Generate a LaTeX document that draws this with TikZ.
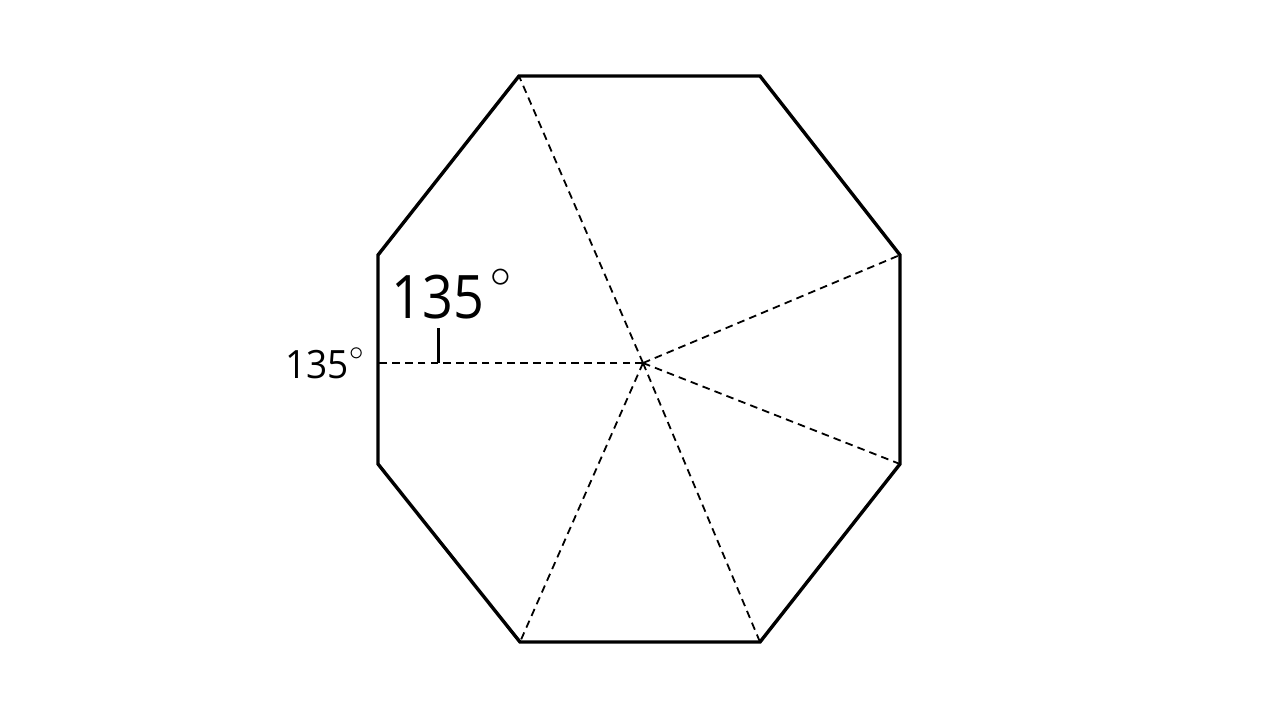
\documentclass[tikz,border=0pt]{standalone}
\usepackage{fontspec}
\setmainfont{Open Sans}
\begin{document}
\begin{tikzpicture}[x=0.5pt,y=-0.5pt,
  edge/.style={line width=1.7pt,line join=miter},
  ray/.style={line width=0.9pt,dash pattern=on 3.8pt off 2.6pt},
  tick/.style={line width=1.5pt},
  bigl/.style={font=\fontsize{30}{36}\selectfont,inner sep=0pt,anchor=base west},
  smalll/.style={font=\fontsize{19.5}{23}\selectfont,inner sep=0pt,anchor=base west}]
\useasboundingbox (0,0) rectangle (1280,720);
\coordinate (A) at (519,76);
\coordinate (B) at (760,76);
\coordinate (C) at (900,255);
\coordinate (D) at (900,464);
\coordinate (E) at (760,642);
\coordinate (F) at (520,642);
\coordinate (G) at (378,464);
\coordinate (H) at (378,255);
\coordinate (O) at (643,363);
\coordinate (L) at (378,363);
\coordinate (T1) at (438,363);
\coordinate (T2) at (438,328);
\draw[ray] (O) -- (A);
\draw[ray] (O) -- (C);
\draw[ray] (O) -- (D);
\draw[ray] (O) -- (E);
\draw[ray] (O) -- (F);
\draw[ray] (O) -- (L);
\draw[edge] (A) -- (B) -- (C) -- (D) -- (E) -- (F) -- (G) -- (H) -- cycle;
\draw[tick] (T1) -- (T2);
\node[bigl] (big) at (391,318) {\scalebox{0.9}[1]{135}\hspace{3pt}\raisebox{6pt}{$^{\circ}$}};
\node[smalll] (small) at (285,378) {\scalebox{0.95}[1]{135}\hspace{0.5pt}\raisebox{1pt}{$^{\circ}$}};
\end{tikzpicture}
\end{document}
